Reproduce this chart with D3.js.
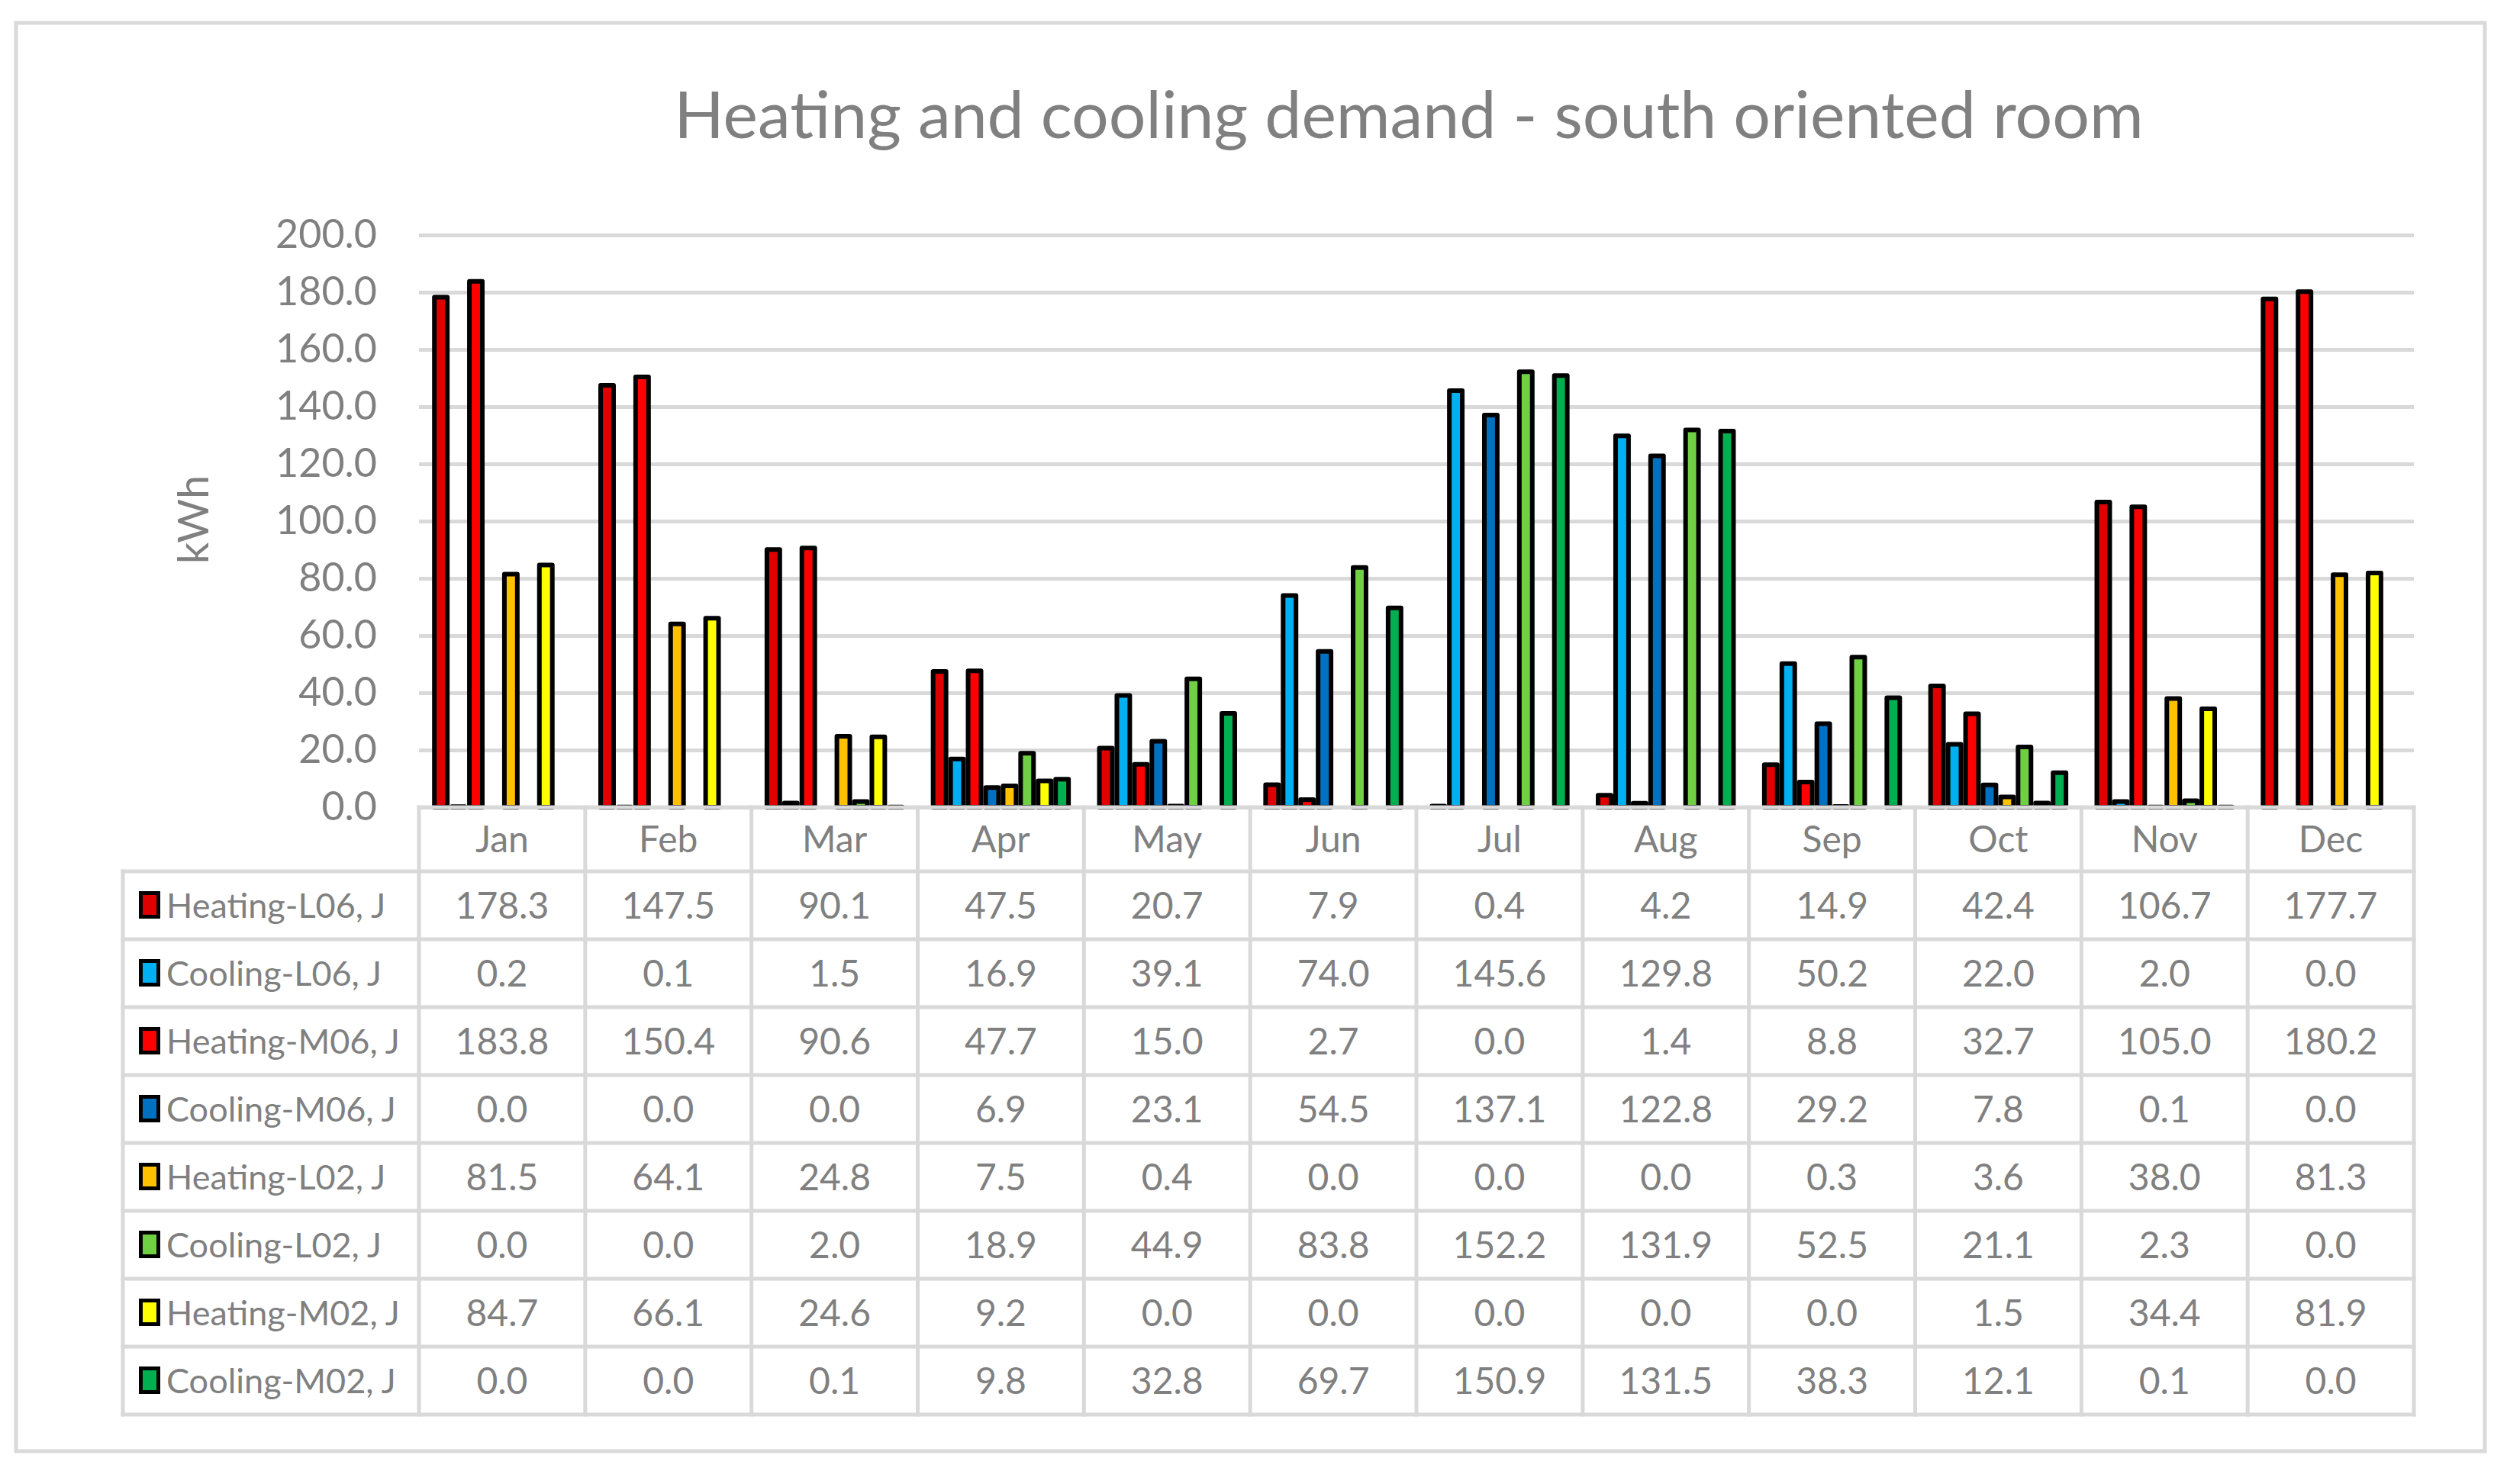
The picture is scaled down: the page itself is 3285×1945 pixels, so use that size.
<!DOCTYPE html>
<html>
<head>
<meta charset="utf-8">
<script src="https://cdn.jsdelivr.net/npm/d3@7"></script>
<style>
  html, body { margin: 0; padding: 0; background: #fff; }
  svg { display: block; font-family: Lato, "Open Sans", sans-serif; }
</style>
</head>
<body>
<svg id="chart" width="3285" height="1945"></svg>
<script>
(function(){
const width = 3285;
const height = 1945;

// --- Data ---
const months = ["Jan", "Feb", "Mar", "Apr", "May", "Jun", "Jul", "Aug", "Sep", "Oct", "Nov", "Dec"];
const seriesNames = ["Heating-L06, J", "Cooling-L06, J", "Heating-M06, J", "Cooling-M06, J",
                     "Heating-L02, J", "Cooling-L02, J", "Heating-M02, J", "Cooling-M02, J"];
const heatingL06 = [178.3, 147.5, 90.1, 47.5, 20.7, 7.9, 0.4, 4.2, 14.9, 42.4, 106.7, 177.7];
const coolingL06 = [0.2, 0.1, 1.5, 16.9, 39.1, 74.0, 145.6, 129.8, 50.2, 22.0, 2.0, 0.0];
const heatingM06 = [183.8, 150.4, 90.6, 47.7, 15.0, 2.7, 0.0, 1.4, 8.8, 32.7, 105.0, 180.2];
const coolingM06 = [0.0, 0.0, 0.0, 6.9, 23.1, 54.5, 137.1, 122.8, 29.2, 7.8, 0.1, 0.0];
const heatingL02 = [81.5, 64.1, 24.8, 7.5, 0.4, 0.0, 0.0, 0.0, 0.3, 3.6, 38.0, 81.3];
const coolingL02 = [0.0, 0.0, 2.0, 18.9, 44.9, 83.8, 152.2, 131.9, 52.5, 21.1, 2.3, 0.0];
const heatingM02 = [84.7, 66.1, 24.6, 9.2, 0.0, 0.0, 0.0, 0.0, 0.0, 1.5, 34.4, 81.9];
const coolingM02 = [0.0, 0.0, 0.1, 9.8, 32.8, 69.7, 150.9, 131.5, 38.3, 12.1, 0.1, 0.0];
const seriesValues = [heatingL06, coolingL06, heatingM06, coolingM06,
                      heatingL02, coolingL02, heatingM02, coolingM02];
const seriesColors = ["#e00000", "#00b0f0", "#ff0000", "#0070c0",
                      "#ffc000", "#70d044", "#ffff00", "#00b050"];
const yTicks = [0, 20, 40, 60, 80, 100, 120, 140, 160, 180, 200];

const series = seriesNames.map((name, i) => ({ name, color: seriesColors[i], values: seriesValues[i] }));

const svg = d3.select("#chart");
const grey = "#808080";
const lineGrey = "#d9d9d9";

// --- Layout ---
const plotLeft = 549, plotRight = 3163, plotTop = 308, plotBottom = 1058;
const tableLeft = 161, headerH = 84, rowH = 89;
const rowsTop = plotBottom + headerH;
const tableBottom = rowsTop + rowH * series.length;

const x = d3.scaleBand().domain(months).range([plotLeft, plotRight]).padding(0);
const xs = d3.scaleBand().domain(d3.range(series.length)).range([0, x.bandwidth()])
  .paddingInner(0).paddingOuter(0.75);
const y = d3.scaleLinear().domain([0, 200]).range([plotBottom, plotTop]);

svg.append("rect").attr("width", width).attr("height", height).attr("fill", "#fff");

// --- Chart border ---
svg.append("rect")
  .attr("x", 21).attr("y", 30)
  .attr("width", 3235).attr("height", 1872)
  .attr("fill", "none")
  .attr("stroke", lineGrey)
  .attr("stroke-width", 5);

// --- Title ---
svg.append("text")
  .attr("x", 1846).attr("y", 181)
  .attr("text-anchor", "middle")
  .attr("font-size", 86)
  .attr("fill", grey)
  .text("Heating and cooling demand - south oriented room");

// --- Y axis + gridlines ---
const yAxis = svg.append("g")
  .attr("transform", `translate(${plotLeft},0)`)
  .call(d3.axisLeft(y)
    .tickValues(yTicks)
    .tickSize(-(plotRight - plotLeft))
    .tickPadding(55)
    .tickFormat(d3.format(".1f")));
yAxis.select(".domain").remove();
yAxis.selectAll("line").attr("stroke", lineGrey).attr("stroke-width", 5);
yAxis.selectAll("text").attr("fill", grey).attr("font-size", 52).attr("font-family", "Lato");

svg.append("text")
  .attr("transform", "translate(251,681) rotate(-90)")
  .attr("text-anchor", "middle")
  .attr("dominant-baseline", "central")
  .attr("font-size", 56)
  .attr("fill", grey)
  .text("kWh");

// --- Bars ---
const barStroke = 6;
const groups = svg.append("g")
  .selectAll("g")
  .data(months)
  .enter()
  .append("g")
  .attr("transform", d => `translate(${x(d)},0)`);

groups.selectAll("rect")
  .data((m, mi) => series.map((s, si) => ({ si, v: s.values[mi], color: s.color })).filter(d => d.v > 0))
  .enter()
  .append("rect")
  .attr("x", d => xs(d.si) + barStroke / 2)
  .attr("width", xs.bandwidth() - barStroke)
  .attr("y", d => y(d.v))
  .attr("height", d => y(0) - y(d.v))
  .attr("fill", d => d.color)
  .attr("stroke", "#000")
  .attr("stroke-width", barStroke)
  .attr("stroke-linejoin", "round");

// --- Data table ---
const table = svg.append("g")
  .attr("stroke", lineGrey)
  .attr("stroke-width", 5)
  .attr("stroke-linecap", "square");

table.append("line")
  .attr("x1", plotLeft).attr("x2", plotRight)
  .attr("y1", plotBottom).attr("y2", plotBottom);

table.selectAll(".hline")
  .data(d3.range(series.length + 1))
  .enter()
  .append("line")
  .attr("x1", tableLeft).attr("x2", plotRight)
  .attr("y1", i => rowsTop + i * rowH)
  .attr("y2", i => rowsTop + i * rowH);

table.append("line")
  .attr("x1", tableLeft).attr("x2", tableLeft)
  .attr("y1", rowsTop).attr("y2", tableBottom);

table.selectAll(".vline")
  .data(d3.range(months.length + 1))
  .enter()
  .append("line")
  .attr("x1", i => plotLeft + i * x.step())
  .attr("x2", i => plotLeft + i * x.step())
  .attr("y1", plotBottom).attr("y2", tableBottom);

// month header
svg.append("g")
  .selectAll("text")
  .data(months)
  .enter()
  .append("text")
  .attr("x", d => x(d) + x.bandwidth() / 2)
  .attr("y", plotBottom + headerH / 2 - 2)
  .attr("text-anchor", "middle")
  .attr("dominant-baseline", "central")
  .attr("font-size", 48)
  .attr("fill", grey)
  .text(d => d);

// rows
const rows = svg.append("g")
  .selectAll("g")
  .data(series)
  .enter()
  .append("g")
  .attr("transform", (d, i) => `translate(0,${rowsTop + i * rowH + rowH / 2})`);

rows.append("rect")
  .attr("x", 184.5).attr("y", -16)
  .attr("width", 23).attr("height", 31)
  .attr("fill", d => d.color)
  .attr("stroke", "#000")
  .attr("stroke-width", 5);

rows.append("text")
  .attr("x", 218)
  .attr("y", -1)
  .attr("dominant-baseline", "central")
  .attr("font-size", 45)
  .attr("fill", grey)
  .text(d => d.name);

rows.selectAll(".val")
  .data(d => d.values.map((v, i) => ({ v, m: months[i] })))
  .enter()
  .append("text")
  .attr("x", d => x(d.m) + x.bandwidth() / 2)
  .attr("y", -1)
  .attr("text-anchor", "middle")
  .attr("dominant-baseline", "central")
  .attr("font-size", 48)
  .attr("fill", grey)
  .text(d => d3.format(".1f")(d.v));
})();
</script>
</body>
</html>
